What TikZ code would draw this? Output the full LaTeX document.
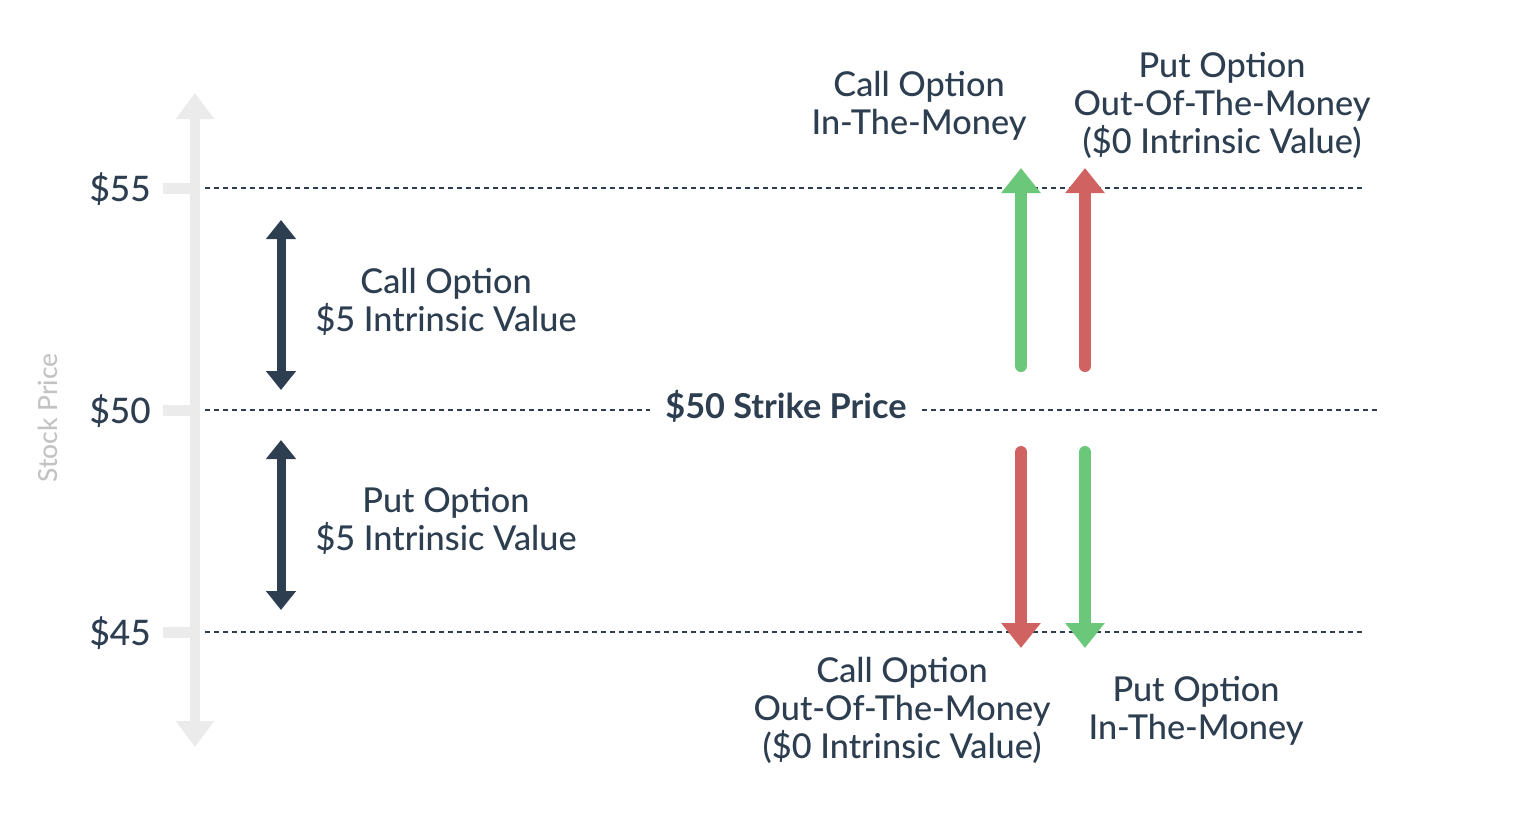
\documentclass[tikz,border=0pt]{standalone}
\usepackage{fontspec}
\setmainfont{Lato Medium}[BoldFont={Lato Bold}]
\usetikzlibrary{arrows.meta}
\definecolor{slate}{RGB}{45,62,80}
\definecolor{axisgray}{RGB}{235,235,235}
\definecolor{labelgray}{RGB}{195,195,195}
\definecolor{upgreen}{RGB}{107,199,122}
\definecolor{downred}{RGB}{209,98,98}
\begin{document}
\begin{tikzpicture}[x=0.02cm, y=-0.02cm,
    txt/.style={text=slate, align=center, font=\fontsize{19.5}{21.6}\selectfont},
    price/.style={text=slate, anchor=east, inner sep=0pt, font=\fontsize{20}{22}\selectfont},
    level/.style={slate, line width=0.05cm, dash pattern=on 0.1cm off 0.08cm},
    axisarrow/.style={axisgray, line width=0.2cm, {Triangle[width=0.74cm, length=0.52cm]}-{Triangle[width=0.74cm, length=0.52cm]}},
    tick/.style={axisgray, line width=0.22cm},
    gap/.style={slate, line width=0.18cm, {Triangle[width=0.58cm, length=0.38cm]}-{Triangle[width=0.58cm, length=0.38cm]}},
    move/.style={line width=0.24cm, line cap=round, -{Triangle[width=0.76cm, length=0.5cm]}}]
    \useasboundingbox (0,0) rectangle (1514,816);

    % stock price axis
    \coordinate (axtop) at (195,93);
    \coordinate (axbot) at (195,747);
    \draw[axisarrow] (axbot) -- (axtop);
    \node[text=labelgray, rotate=90, font=\fontsize{15}{18}\selectfont] (axlabel) at (48,418) {Stock Price};

    \coordinate (t55) at (163,188);
    \coordinate (t50) at (163,410);
    \coordinate (t45) at (163,632);
    \draw[tick] (t55) -- (195,188);
    \draw[tick] (t50) -- (195,410);
    \draw[tick] (t45) -- (195,632);
    \node[price] (p55) at (151,189) {\$55};
    \node[price] (p50) at (151,411) {\$50};
    \node[price] (p45) at (151,633) {\$45};

    % price levels
    \coordinate (l55) at (205,188);
    \coordinate (r55) at (1365,188);
    \coordinate (l50) at (205,410);
    \coordinate (r50) at (1378,410);
    \coordinate (l45) at (205,632);
    \coordinate (r45) at (1365,632);
    \node[txt, font=\fontsize{19.5}{21.6}\selectfont\bfseries, inner xsep=0.3cm] (strike) at (786,406) {\$50 Strike Price};
    \draw[level] (l55) -- (r55);
    \draw[level] (l45) -- (r45);
    \draw[level] (l50) -- (strike.west |- l50);
    \draw[level] (strike.east |- r50) -- (r50);

    % intrinsic value
    \coordinate (ctop) at (281,220);
    \coordinate (cbot) at (281,390);
    \coordinate (ptop) at (281,440);
    \coordinate (pbot) at (281,610);
    \draw[gap] (cbot) -- (ctop);
    \draw[gap] (pbot) -- (ptop);
    \node[txt] (callval) at (446,302) {Call Option\\\$5 Intrinsic Value};
    \node[txt] (putval) at (446,521) {Put Option\\\$5 Intrinsic Value};

    % moves
    \coordinate (cup0) at (1021,366);
    \coordinate (cup1) at (1021,168);
    \coordinate (pup0) at (1085,366);
    \coordinate (pup1) at (1085,168);
    \coordinate (cdn0) at (1021,452);
    \coordinate (cdn1) at (1021,648);
    \coordinate (pdn0) at (1085,452);
    \coordinate (pdn1) at (1085,648);
    \draw[move, upgreen] (cup0) -- (cup1);
    \draw[move, downred] (pup0) -- (pup1);
    \draw[move, downred] (cdn0) -- (cdn1);
    \draw[move, upgreen] (pdn0) -- (pdn1);

    \node[txt] (callitm) at (919,106) {Call Option\\In-The-Money};
    \node[txt] (putotm) at (1222,105) {Put Option\\Out-Of-The-Money\\(\$0 Intrinsic Value)};
    \node[txt] (callotm) at (902,710) {Call Option\\Out-Of-The-Money\\(\$0 Intrinsic Value)};
    \node[txt] (putitm) at (1196,711) {Put Option\\In-The-Money};
\end{tikzpicture}
\end{document}
